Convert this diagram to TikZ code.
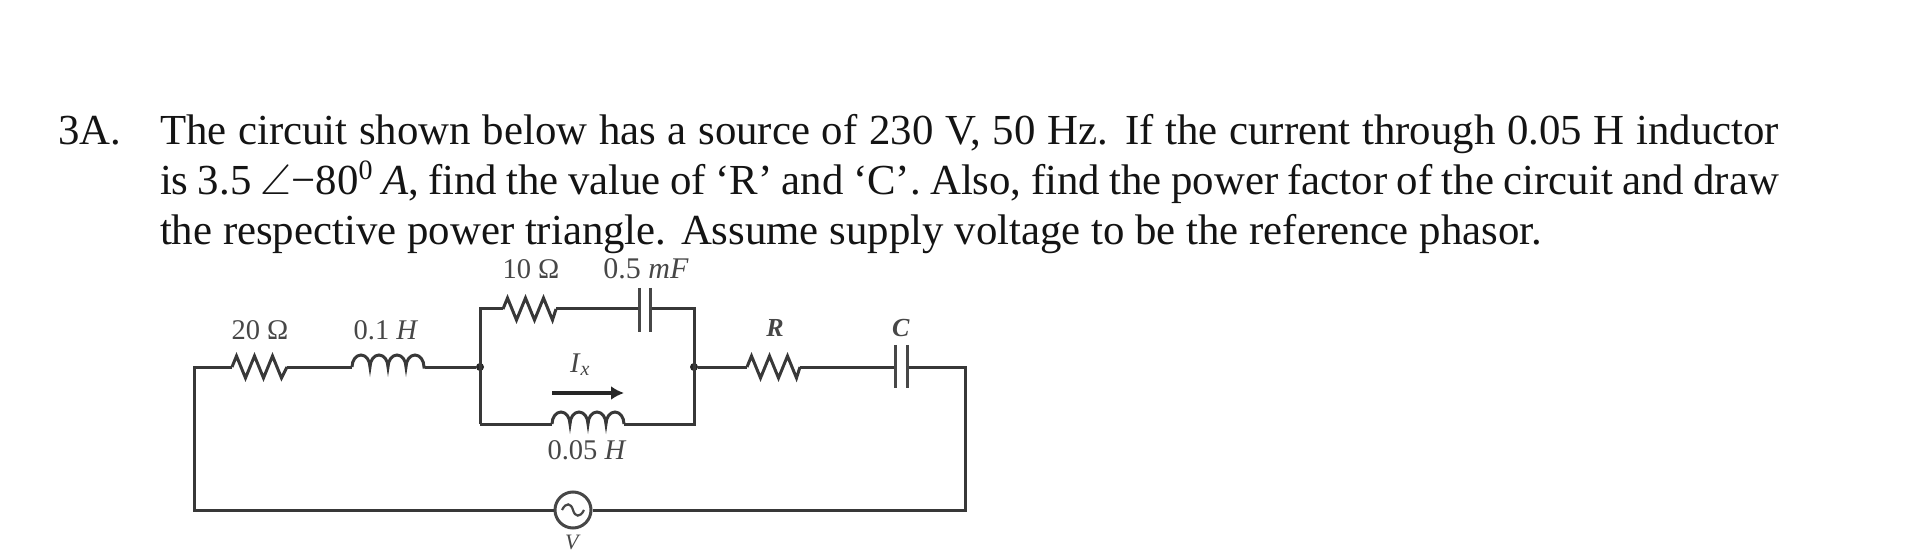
\documentclass[tikz,border=0pt]{standalone}
\usepackage{amssymb}
\usepackage{fontspec}
\usetikzlibrary{arrows.meta}
\setmainfont{Liberation Serif}
\tikzset{
  x=1pt,y=-1pt,
  line/.style={anchor=base west,inner sep=0pt,outer sep=0pt,text=black!92,font=\fontsize{42.8}{50}\selectfont},
  lab/.style={anchor=base,inner sep=0pt,outer sep=0pt,text=black!72,font=\fontsize{28.5}{32}\selectfont},
  wire/.style={draw=black!78,line width=3pt,line join=miter},
  dot/.style={circle,fill=black!85,inner sep=0pt,minimum size=8pt},
  capplate/.style={draw=black!72,line width=3pt},
  resistor/.style={to path={-- ++(4.5,-11) -- ++(9,22) -- ++(9,-22) -- ++(9,22) -- ++(9,-22) -- ++(9,22) -- (\tikztotarget)}},
  inductor/.style={to path={
    arc[start angle=180,end angle=360,x radius=9,y radius=12]
    arc[start angle=180,end angle=360,x radius=9,y radius=12]
    arc[start angle=180,end angle=360,x radius=9,y radius=12]
    arc[start angle=180,end angle=360,x radius=9,y radius=12] -- (\tikztotarget)}},
  source/.style={circle,draw=black!72,line width=3pt,minimum size=36pt,inner sep=0pt},
}
\begin{document}
\begin{tikzpicture}
\useasboundingbox[fill=white] (0,0) rectangle (1920,553);
% text
\node[line] (q) at (58,144.5) {3A.};
\node[line] (l1) at (160,144.5) {\makebox[1619pt][s]{The circuit shown below has a source of 230 V, 50 Hz. If the current through 0.05 H inductor}};
\node[line] (l2) at (160,194.5) {\makebox[1619pt][s]{is 3.5 $\angle$−80\raisebox{0.36em}{\fontsize{28}{30}\selectfont 0} \textit{A}, find the value of ‘R’ and ‘C’. Also, find the power factor of the circuit and draw}};
\node[line] (l3) at (160,244.5) {\makebox[1382pt][s]{the respective power triangle. Assume supply voltage to be the reference phasor.}};
% junction and corners
\coordinate (tl) at (194,367);
\coordinate (bl) at (194,510);
\coordinate (br) at (965,510);
\coordinate (tr) at (965,367);
\node[dot] (ja) at (480,367) {};
\node[dot] (jb) at (694,367) {};
\coordinate (pa) at (480,309);
\coordinate (pb) at (694,309);
\coordinate (qa) at (480,424);
\coordinate (qb) at (694,424);
% element end points
\coordinate (r1a) at (232,367); \coordinate (r1b) at (287,367);
\coordinate (l1a) at (352,367); \coordinate (l1b) at (425,367);
\coordinate (r2a) at (503,309); \coordinate (r2b) at (556,309);
\coordinate (c1a) at (639,309); \coordinate (c1b) at (650,309);
\coordinate (l2a) at (552,424); \coordinate (l2b) at (624,424);
\coordinate (r3a) at (747,367); \coordinate (r3b) at (800,367);
\coordinate (c2a) at (895,367); \coordinate (c2b) at (907,367);
\node[source] (vs) at (573,510) {};
% wires
\draw[wire] (r1a) -- (tl) -- (bl) -- (vs);
\draw[wire] (vs) -- (br) -- (tr) -- (c2b);
\draw[wire] (r1a) to[resistor] (r1b);
\draw[wire] (r1b) -- (l1a);
\draw[wire] (l1a) to[inductor] (l1b);
\draw[wire] (l1b) -- (ja);
\draw[wire] (qa) -- (pa) -- (r2a);
\draw[wire] (r2a) to[resistor] (r2b);
\draw[wire] (r2b) -- (c1a);
\draw[wire] (c1b) -- (pb) -- (qb) -- (l2b);
\draw[wire] (qa) -- (l2a);
\draw[wire] (l2a) to[inductor] (l2b);
\draw[wire] (jb) -- (r3a);
\draw[wire] (r3a) to[resistor] (r3b);
\draw[wire] (r3b) -- (c2a);
% capacitor plates
\draw[capplate] (639,288) -- (639,332);
\draw[capplate] (650,288) -- (650,332);
\draw[capplate] (895,345) -- (895,388);
\draw[capplate] (907,345) -- (907,388);
% source wave
\draw[draw=black!72,line width=2.2pt] (562,510) .. controls (566,502) and (571,503) .. (573,510) .. controls (575,517) and (580,518) .. (584,510);
% current arrow
\coordinate (ia) at (552,393);
\coordinate (ib) at (624,393);
\draw[draw=black!85,line width=3.2pt,-{Latex[length=13pt,width=14pt]}] (ia) -- (ib);
% labels
\node[lab] (t1) at (260,340) {20 Ω};
\node[lab] (t2) at (386,340) {0.1 \textit{H}};
\node[lab] (t3) at (531,279) {10 Ω};
\node[lab,font=\fontsize{30}{33}\selectfont] (t4) at (646,279) {0.5 \textit{mF}};
\node[lab,font=\fontsize{26}{30}\selectfont] (t5) at (775,337) {\textbf{\textit{R}}};
\node[lab,font=\fontsize{26}{30}\selectfont] (t6) at (901,337) {\textbf{\textit{C}}};
\node[lab] (t7) at (587,459) {0.05 \textit{H}};
\node[lab] (t8) at (580,372) {\textit{I}\textsubscript{\textit{x}}};
\node[lab,font=\fontsize{22}{26}\selectfont] (t9) at (573,549) {\textit{V}};
\end{tikzpicture}
\end{document}
